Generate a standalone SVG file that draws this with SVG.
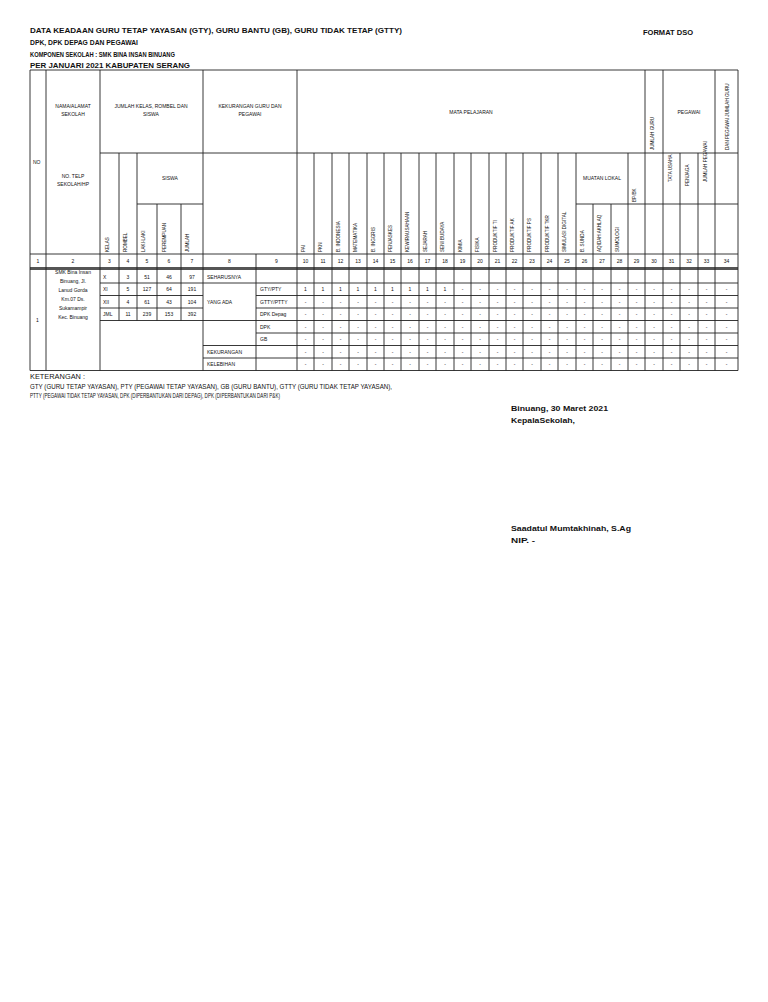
<svg xmlns="http://www.w3.org/2000/svg" width="768" height="1002" viewBox="0 0 768 1002">
<style>
text{font-family:"Liberation Sans",Arial,sans-serif;fill:#111}
.t{font-size:8px;font-weight:bold}
.k{font-size:6.4px}
.s{font-size:5px}
.c{text-anchor:middle}
.v{font-size:4.6px}
line{stroke:#222;stroke-width:0.9}
.th{stroke:#555;stroke-width:3}
</style>
<rect width="768" height="1002" fill="#fff"/>
<g id="title">
<text class="t" x="30" y="33" textLength="372" lengthAdjust="spacingAndGlyphs">DATA KEADAAN GURU TETAP YAYASAN (GTY), GURU BANTU (GB), GURU TIDAK TETAP (GTTY)</text>
<text class="t" x="30" y="45" textLength="108" lengthAdjust="spacingAndGlyphs">DPK, DPK DEPAG  DAN PEGAWAI</text>
<text class="t" x="30" y="57" textLength="145" lengthAdjust="spacingAndGlyphs">KOMPONEN SEKOLAH : SMK BINA INSAN BINUANG</text>
<text class="t" x="30" y="68" textLength="160" lengthAdjust="spacingAndGlyphs">PER JANUARI 2021 KABUPATEN SERANG</text>
<text class="t" x="643" y="35" font-size="7" textLength="50" lengthAdjust="spacingAndGlyphs">FORMAT DSO</text>
</g>
<g id="grid">
<line x1="30" y1="70" x2="738" y2="70"/>
<line x1="100" y1="153" x2="738" y2="153"/>
<line x1="137" y1="204" x2="203" y2="204"/>
<line x1="576" y1="204" x2="738" y2="204"/>
<line x1="30" y1="254" x2="738" y2="254"/>
<line class="th" x1="30" y1="268.5" x2="738" y2="268.5"/>
<line x1="100" y1="283" x2="738" y2="283"/>
<line x1="100" y1="295.5" x2="203" y2="295.5"/><line x1="256" y1="295.5" x2="738" y2="295.5"/>
<line x1="100" y1="308" x2="203" y2="308"/><line x1="256" y1="308" x2="738" y2="308"/>
<line x1="100" y1="320.5" x2="738" y2="320.5"/>
<line x1="256" y1="333" x2="738" y2="333"/>
<line x1="203" y1="345.5" x2="738" y2="345.5"/>
<line x1="203" y1="358" x2="738" y2="358"/>
<line x1="30" y1="370.5" x2="738" y2="370.5"/>
<line x1="30" y1="70" x2="30" y2="370.5"/><line x1="46" y1="70" x2="46" y2="370.5"/><line x1="100" y1="70" x2="100" y2="370.5"/>
<line x1="119" y1="153" x2="119" y2="320.5"/><line x1="137" y1="153" x2="137" y2="320.5"/>
<line x1="157" y1="204" x2="157" y2="320.5"/><line x1="181" y1="204" x2="181" y2="320.5"/>
<line x1="203" y1="70" x2="203" y2="370.5"/><line x1="256" y1="254" x2="256" y2="370.5"/>
<line x1="297" y1="70" x2="297" y2="370.5"/>
<line x1="314" y1="153" x2="314" y2="370.5"/><line x1="332" y1="153" x2="332" y2="370.5"/><line x1="349" y1="153" x2="349" y2="370.5"/><line x1="367" y1="153" x2="367" y2="370.5"/><line x1="384" y1="153" x2="384" y2="370.5"/><line x1="401" y1="153" x2="401" y2="370.5"/><line x1="419" y1="153" x2="419" y2="370.5"/><line x1="436" y1="153" x2="436" y2="370.5"/><line x1="454" y1="153" x2="454" y2="370.5"/><line x1="471" y1="153" x2="471" y2="370.5"/><line x1="489" y1="153" x2="489" y2="370.5"/><line x1="506" y1="153" x2="506" y2="370.5"/><line x1="523" y1="153" x2="523" y2="370.5"/><line x1="541" y1="153" x2="541" y2="370.5"/><line x1="558" y1="153" x2="558" y2="370.5"/><line x1="576" y1="153" x2="576" y2="370.5"/>
<line x1="593" y1="204" x2="593" y2="370.5"/><line x1="611" y1="204" x2="611" y2="370.5"/>
<line x1="628" y1="153" x2="628" y2="370.5"/>
<line x1="645" y1="70" x2="645" y2="370.5"/><line x1="663" y1="70" x2="663" y2="370.5"/>
<line x1="680" y1="153" x2="680" y2="370.5"/><line x1="698" y1="153" x2="698" y2="370.5"/>
<line x1="715" y1="70" x2="715" y2="370.5"/><line x1="738" y1="70" x2="738" y2="370.5"/>
</g>
<g id="header">
<text class="s" x="33" y="164">NO</text>
<text class="s c" x="73" y="108">NAMA/ALAMAT</text><text class="s c" x="73" y="116">SEKOLAH</text>
<text class="s c" x="73" y="178">NO. TELP</text><text class="s c" x="73" y="186">SEKOLAH/HP</text>
<text class="s c" x="151" y="108">JUMLAH KELAS, ROMBEL DAN</text><text class="s c" x="151" y="116">SISWA</text>
<text class="s c" x="250" y="108">KEKURANGAN GURU DAN</text><text class="s c" x="250" y="116">PEGAWAI</text>
<text class="s c" x="471" y="114">MATA PELAJARAN</text>
<text class="s c" x="170" y="180">SISWA</text>
<text class="s c" x="602" y="180">MUATAN LOKAL</text>
<text class="s c" x="689" y="114">PEGAWAI</text>
<g class="v">
<text transform="translate(109,252) rotate(-90)">KELAS</text>
<text transform="translate(127,252) rotate(-90)">ROMBEL</text>
<text transform="translate(145,252) rotate(-90)">LAKI-LAKI</text>
<text transform="translate(166,252) rotate(-90)">PEREMPUAN</text>
<text transform="translate(189,252) rotate(-90)">JUMLAH</text>
<text transform="translate(305,252) rotate(-90)">PAI</text>
<text transform="translate(322,252) rotate(-90)">PKN</text>
<text transform="translate(340,252) rotate(-90)">B. INDONESIA</text>
<text transform="translate(357,252) rotate(-90)">MATEMATIKA</text>
<text transform="translate(375,252) rotate(-90)">B. INGGRIS</text>
<text transform="translate(392,252) rotate(-90)">PENJASKES</text>
<text transform="translate(409,252) rotate(-90)">KEWIRAUSAHAAN</text>
<text transform="translate(427,252) rotate(-90)">SEJARAH</text>
<text transform="translate(444,252) rotate(-90)">SENI BUDAYA</text>
<text transform="translate(462,252) rotate(-90)">KIMIA</text>
<text transform="translate(479,252) rotate(-90)">FISIKA</text>
<text transform="translate(497,252) rotate(-90)">PRODUKTIF TI</text>
<text transform="translate(514,252) rotate(-90)">PRODUKTIF AK</text>
<text transform="translate(531,252) rotate(-90)">PRODUKTIF PS</text>
<text transform="translate(549,252) rotate(-90)">PRODUKTIF TKR</text>
<text transform="translate(566,252) rotate(-90)">SIMULASI DIGITAL</text>
<text transform="translate(584,252) rotate(-90)">B. SUNDA</text>
<text transform="translate(601,252) rotate(-90)">AQIDAH AKHLAQ</text>
<text transform="translate(619,252) rotate(-90)">SUMOLOGI</text>
<text transform="translate(636,202) rotate(-90)">BP/BK</text>
<text transform="translate(654,150) rotate(-90)">JUMLAH GURU</text>
<text transform="translate(672,182) rotate(-90)">TATA USAHA</text>
<text transform="translate(689,186) rotate(-90)">PENJAGA</text>
<text transform="translate(707,182) rotate(-90)">JUMLAH PEGAWAI</text>
<text transform="translate(729,150) rotate(-90)">DAN PEGAWAI JUMLAH GURU</text>
</g>
</g>
<g id="numbers" class="s c">
<text x="38" y="263">1</text><text x="73" y="263">2</text><text x="109.5" y="263">3</text><text x="128" y="263">4</text><text x="147" y="263">5</text><text x="169" y="263">6</text><text x="192" y="263">7</text><text x="229.5" y="263">8</text><text x="276.5" y="263">9</text>
<text x="305.5" y="263">10</text><text x="323" y="263">11</text><text x="340.5" y="263">12</text><text x="358" y="263">13</text><text x="375.5" y="263">14</text><text x="392.5" y="263">15</text><text x="410" y="263">16</text><text x="427.5" y="263">17</text><text x="445" y="263">18</text><text x="462.5" y="263">19</text><text x="480" y="263">20</text><text x="497.5" y="263">21</text><text x="514.5" y="263">22</text><text x="532" y="263">23</text><text x="549.5" y="263">24</text><text x="567" y="263">25</text><text x="584.5" y="263">26</text><text x="602" y="263">27</text><text x="619.5" y="263">28</text><text x="636.5" y="263">29</text><text x="654" y="263">30</text><text x="671.5" y="263">31</text><text x="689" y="263">32</text><text x="706.5" y="263">33</text><text x="726.5" y="263">34</text>
</g>
<g id="data" class="s">
<text x="36" y="322">1</text>
<g class="c"><text x="73" y="274">SMK Bina Insan</text><text x="73" y="283">Binuang, Jl.</text><text x="73" y="292">Lanud Gorda</text><text x="73" y="301">Km.07 Ds.</text><text x="73" y="310">Sukamampir</text><text x="73" y="319">Kec. Binuang</text></g>
<text x="103" y="278.5">X</text><text x="103" y="291">XI</text><text x="103" y="303.5">XII</text><text x="103" y="316">JML</text>
<g class="c">
<text x="128" y="278.5">3</text><text x="147" y="278.5">51</text><text x="169" y="278.5">46</text><text x="192" y="278.5">97</text>
<text x="128" y="291">5</text><text x="147" y="291">127</text><text x="169" y="291">64</text><text x="192" y="291">191</text>
<text x="128" y="303.5">4</text><text x="147" y="303.5">61</text><text x="169" y="303.5">43</text><text x="192" y="303.5">104</text>
<text x="128" y="316">11</text><text x="147" y="316">239</text><text x="169" y="316">153</text><text x="192" y="316">392</text>
</g>
<text x="207" y="278.5">SEHARUSNYA</text><text x="207" y="304">YANG ADA</text><text x="207" y="354">KEKURANGAN</text><text x="207" y="366">KELEBIHAN</text>
<text x="260" y="291">GTY/PTY</text><text x="260" y="303.5">GTTY/PTTY</text><text x="260" y="316">DPK Depag</text><text x="260" y="328.5">DPK</text><text x="260" y="341">GB</text>
<g class="c">
<text x="305.5 323 340.5 358 375.5 392.5 410 427.5 445 462.5 480 497.5 514.5 532 549.5 567 584.5 602 619.5 636.5 654 671.5 689 706.5 726.5" y="291">111111111----------------</text>
<text x="305.5 323 340.5 358 375.5 392.5 410 427.5 445 462.5 480 497.5 514.5 532 549.5 567 584.5 602 619.5 636.5 654 671.5 689 706.5 726.5" y="303.5">-------------------------</text>
<text x="305.5 323 340.5 358 375.5 392.5 410 427.5 445 462.5 480 497.5 514.5 532 549.5 567 584.5 602 619.5 636.5 654 671.5 689 706.5 726.5" y="316">-------------------------</text>
<text x="305.5 323 340.5 358 375.5 392.5 410 427.5 445 462.5 480 497.5 514.5 532 549.5 567 584.5 602 619.5 636.5 654 671.5 689 706.5 726.5" y="328.5">-------------------------</text>
<text x="305.5 323 340.5 358 375.5 392.5 410 427.5 445 462.5 480 497.5 514.5 532 549.5 567 584.5 602 619.5 636.5 654 671.5 689 706.5 726.5" y="341">-------------------------</text>
<text x="305.5 323 340.5 358 375.5 392.5 410 427.5 445 462.5 480 497.5 514.5 532 549.5 567 584.5 602 619.5 636.5 654 671.5 689 706.5 726.5" y="353.5">-------------------------</text>
<text x="305.5 323 340.5 358 375.5 392.5 410 427.5 445 462.5 480 497.5 514.5 532 549.5 567 584.5 602 619.5 636.5 654 671.5 689 706.5 726.5" y="366">-------------------------</text>
</g>
</g>
<g id="notes" class="k">
<text x="30" y="379" textLength="55" lengthAdjust="spacingAndGlyphs">KETERANGAN :</text>
<text x="30" y="388.5" textLength="362" lengthAdjust="spacingAndGlyphs">GTY (GURU TETAP YAYASAN), PTY (PEGAWAI TETAP YAYASAN), GB (GURU BANTU), GTTY (GURU TIDAK TETAP YAYASAN),</text>
<text x="30" y="398" textLength="250" lengthAdjust="spacingAndGlyphs">PTTY (PEGAWAI TIDAK TETAP YAYASAN, DPK (DIPERBANTUKAN DARI DEPAG), DPK (DIPERBANTUKAN DARI P&amp;K)</text>
</g>
<g id="signature" class="t">
<text x="511" y="411" textLength="97" lengthAdjust="spacingAndGlyphs">Binuang, 30 Maret 2021</text>
<text x="511" y="423" textLength="64" lengthAdjust="spacingAndGlyphs">KepalaSekolah,</text>
<text x="511" y="531" textLength="120" lengthAdjust="spacingAndGlyphs">Saadatul Mumtakhinah, S.Ag</text>
<text x="511" y="543" textLength="24" lengthAdjust="spacingAndGlyphs">NIP. -</text>
</g>
</svg>
